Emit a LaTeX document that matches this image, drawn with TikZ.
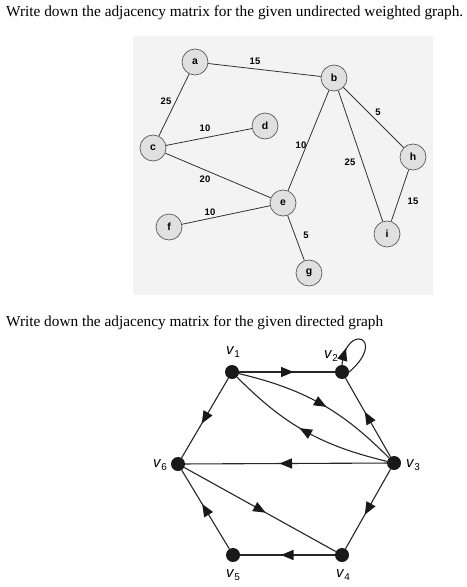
\documentclass[tikz,border=0pt]{standalone}
\usepackage{fontspec}
\usepackage{graphicx}
\setmainfont{Liberation Serif}
\newfontfamily\arialfont{Liberation Sans}
\usetikzlibrary{decorations.markings}
\definecolor{panel}{HTML}{F3F3F3}
\definecolor{nodefill}{HTML}{E0E0E0}
\definecolor{edgecol}{HTML}{333333}
\newcommand{\vlabel}[1]{\textit{v}\raisebox{-0.4ex}{\fontsize{10}{10}\selectfont #1}}
\newcommand{\tri}{\fill[black!90] (6.5bp,0bp) -- (-6bp,5.2bp) -- (-6bp,-5.2bp) -- cycle;}
\begin{document}
\begin{tikzpicture}[x=1bp,y=1bp,
  wnode/.style={circle,draw=edgecol!80,fill=nodefill,line width=0.7bp,minimum size=26bp,inner sep=0pt,font=\arialfont\bfseries\fontsize{10.5}{10.5}\selectfont},
  wedge/.style={draw=edgecol,line width=0.8bp},
  wlab/.style={font=\arialfont\bfseries\fontsize{9.5}{9.5}\selectfont,inner sep=0pt},
  dnode/.style={circle,fill=black!90,minimum size=14bp,inner sep=0pt},
  dline/.style={draw=black!85,line width=1.1bp},
  dedge/.style={dline,postaction={decorate},
    decoration={markings,mark=at position 0.5 with {\tri}}},
  vlab/.style={font=\arialfont\fontsize{15}{15}\selectfont,inner sep=0pt}
]
\useasboundingbox (0,-587) rectangle (467,0);
\fill[white] (0,-587) rectangle (467,0);
\node[anchor=west,inner sep=0pt] (t1) at (6,-13) {\resizebox{457bp}{!}{Write down the adjacency matrix for the given undirected weighted graph.}};
\fill[panel] (133,-295) rectangle (433,-36);

% undirected weighted graph
\node[wnode] (a) at (195,-62) {a};
\node[wnode] (b) at (334,-78) {b};
\node[wnode] (c) at (153,-148) {c};
\node[wnode] (d) at (265,-126) {d};
\node[wnode] (e) at (283,-203) {e};
\node[wnode] (f) at (169,-227) {f};
\node[wnode] (g) at (309,-273) {g};
\node[wnode] (h) at (413,-157) {h};
\node[wnode] (i) at (387,-234) {i};

\draw[wedge] (a) -- (b);
\draw[wedge] (a) -- (c);
\draw[wedge] (c) -- (d);
\draw[wedge] (c) -- (e);
\draw[wedge] (b) -- (e);
\draw[wedge] (f) -- (e);
\draw[wedge] (e) -- (g);
\draw[wedge] (b) -- (h);
\draw[wedge] (b) -- (i);
\draw[wedge] (h) -- (i);

\node[wlab] (l1) at (255,-61) {15};
\node[wlab] (l2) at (166,-101) {25};
\node[wlab] (l3) at (205,-128) {10};
\node[wlab] (l4) at (301,-145) {10};
\node[wlab] (l5) at (205,-179) {20};
\node[wlab] (l6) at (210,-212) {10};
\node[wlab] (l7) at (306,-235) {5};
\node[wlab] (l8) at (378,-112) {5};
\node[wlab] (l9) at (350,-162) {25};
\node[wlab] (l10) at (413,-201) {15};

\node[anchor=west,inner sep=0pt] (t2) at (6,-323) {\resizebox{377bp}{!}{Write down the adjacency matrix for the given directed graph}};

% directed graph
\node[dnode] (v1) at (232,-372) {};
\node[dnode] (v2) at (342,-372) {};
\node[dnode] (v3) at (394,-463) {};
\node[dnode] (v4) at (342,-555) {};
\node[dnode] (v5) at (233,-555) {};
\node[dnode] (v6) at (178,-464) {};

\node[vlab] (n1) at (233,-352) {\vlabel{1}};
\node[vlab] (n2) at (331,-356) {\vlabel{2}};
\node[vlab] (n3) at (413,-465) {\vlabel{3}};
\node[vlab] (n4) at (343,-575) {\vlabel{4}};
\node[vlab] (n5) at (233,-575) {\vlabel{5}};
\node[vlab] (n6) at (160,-465) {\vlabel{6}};

\draw[dedge] (v1) -- (v2);
\draw[dedge] (v3) -- (v2);
\draw[dedge] (v1) to[bend left=16] (v3);
\draw[dedge] (v3) to[bend left=16] (v1);
\draw[dedge] (v1) -- (v6);
\draw[dedge] (v3) -- (v6);
\draw[dedge] (v6) -- (v4);
\draw[dedge] (v3) -- (v4);
\draw[dedge] (v4) -- (v5);
\draw[dedge] (v5) -- (v6);
\draw[dline,postaction={decorate},
  decoration={markings,mark=at position 0.14 with {\tri}}]
  (v2.north) .. controls (346,-322) and (388,-338) .. (v2.east);
\end{tikzpicture}
\end{document}
